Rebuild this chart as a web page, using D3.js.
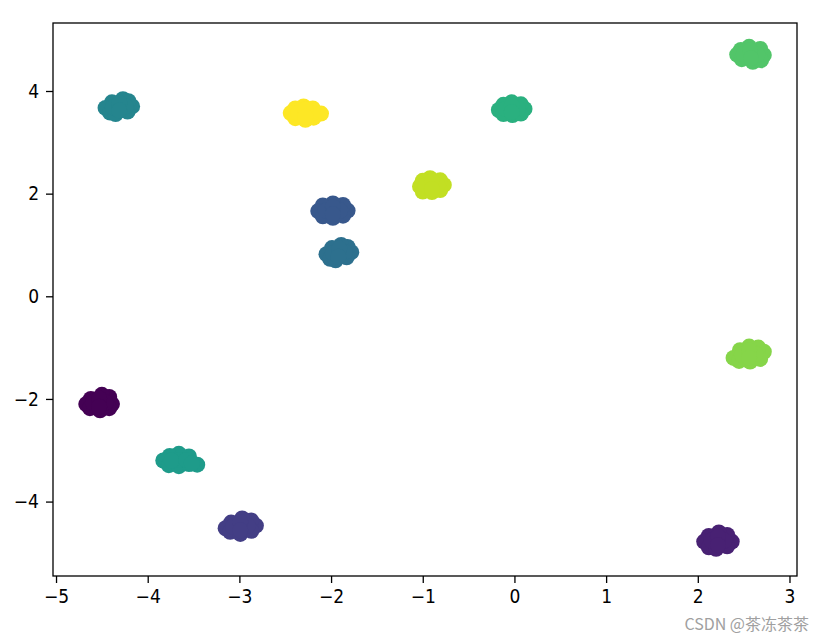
<!DOCTYPE html>
<html>
<head>
<meta charset="utf-8">
<script src="https://cdn.jsdelivr.net/npm/d3@7"></script>
<style>
  body { margin: 0; background: #fff; }
  svg text { font-family: "DejaVu Sans Condensed", "DejaVu Sans", sans-serif; }
</style>
</head>
<body>
<svg id="chart" width="818" height="638"></svg>
<script>
// cluster points (label = position in list)
const pts0 = [[-4.39,-2.10],[-4.42,-1.96],[-4.50,-1.92],[-4.62,-2.00],[-4.67,-2.10],[-4.63,-2.18],[-4.52,-2.22],[-4.42,-2.18],
              [-4.53,-2.07],[-4.60,-2.07],[-4.46,-2.07],[-4.53,-1.99],[-4.53,-2.15]];
const pts1 = [[2.37,-4.78],[2.32,-4.65],[2.23,-4.60],[2.12,-4.67],[2.07,-4.78],[2.12,-4.89],[2.20,-4.92],[2.32,-4.87],
              [2.22,-4.76],[2.15,-4.76],[2.29,-4.76],[2.22,-4.68],[2.22,-4.85]];
const pts2 = [[-2.82,-4.47],[-2.87,-4.37],[-2.97,-4.33],[-3.09,-4.41],[-3.15,-4.52],[-3.10,-4.59],[-2.99,-4.63],[-2.87,-4.57],
              [-2.99,-4.48],[-3.07,-4.49],[-2.91,-4.47],[-2.99,-4.40],[-2.99,-4.56]];
const pts3 = [[-1.82,1.67],[-1.87,1.78],[-1.98,1.81],[-2.09,1.77],[-2.14,1.66],[-2.09,1.56],[-1.98,1.53],[-1.87,1.57],
              [-1.98,1.67],[-2.06,1.67],[-1.90,1.67],[-1.98,1.74],[-1.98,1.60]];
const pts4 = [[-1.78,0.86],[-1.82,0.96],[-1.89,1.00],[-1.99,0.94],[-2.05,0.82],[-2.01,0.73],[-1.95,0.70],[-1.83,0.76],
              [-1.92,0.85],[-1.98,0.84],[-1.85,0.86],[-1.91,0.93],[-1.92,0.77]];
const pts5 = [[-4.17,3.70],[-4.21,3.80],[-4.27,3.84],[-4.39,3.78],[-4.46,3.67],[-4.41,3.58],[-4.35,3.55],[-4.22,3.60],
              [-4.31,3.70],[-4.38,3.68],[-4.24,3.70],[-4.31,3.77],[-4.31,3.62]];
const pts6 = [[-3.46,-3.28],[-3.55,-3.12],[-3.66,-3.07],[-3.76,-3.11],[-3.83,-3.20],[-3.77,-3.29],[-3.66,-3.31],[-3.55,-3.27],
              [-3.66,-3.19],[-3.74,-3.20],[-3.58,-3.19],[-3.52,-3.26]];
const pts7 = [[0.11,3.65],[0.07,3.74],[-0.03,3.78],[-0.12,3.73],[-0.17,3.63],[-0.12,3.55],[-0.02,3.53],[0.07,3.56],
              [-0.03,3.66],[-0.10,3.65],[0.04,3.65],[-0.03,3.72],[-0.03,3.59]];
const pts8 = [[2.72,4.70],[2.68,4.82],[2.56,4.86],[2.47,4.80],[2.43,4.71],[2.48,4.62],[2.60,4.57],[2.69,4.60],
              [2.57,4.72],[2.50,4.72],[2.65,4.71],[2.57,4.79],[2.58,4.64]];
const pts9 = [[2.72,-1.08],[2.66,-1.00],[2.56,-0.98],[2.46,-1.05],[2.39,-1.20],[2.45,-1.26],[2.57,-1.27],[2.68,-1.22],
              [2.56,-1.13],[2.48,-1.14],[2.63,-1.12],[2.56,-1.05],[2.56,-1.20]];
const pts10 = [[-0.77,2.17],[-0.81,2.26],[-0.92,2.30],[-1.00,2.25],[-1.03,2.14],[-1.00,2.04],[-0.90,2.03],[-0.81,2.07],
               [-0.90,2.17],[-0.97,2.16],[-0.84,2.17],[-0.90,2.24],[-0.90,2.09]];
const pts11 = [[-2.11,3.56],[-2.20,3.66],[-2.30,3.70],[-2.39,3.66],[-2.44,3.57],[-2.39,3.47],[-2.28,3.44],[-2.19,3.48],
               [-2.28,3.57],[-2.36,3.57],[-2.20,3.57],[-2.28,3.64],[-2.28,3.50]];

const clusters = [pts0, pts1, pts2, pts3, pts4, pts5, pts6, pts7, pts8, pts9, pts10, pts11];

const xTicks = [-5, -4, -3, -2, -1, 0, 1, 2, 3];
const yTicks = [-4, -2, 0, 2, 4];
const xLimits = [-5.033, 3.082];
const yLimits = [-5.45, 5.325];

const svg = d3.select('#chart');
const margin = { top: 23, right: 21, bottom: 62, left: 53 };
const width = 818 - margin.left - margin.right;
const height = 638 - margin.top - margin.bottom;

const x = d3.scaleLinear().domain(xLimits).range([0, width]);
const y = d3.scaleLinear().domain(yLimits).range([height, 0]);
const color = d3.scaleSequential(d3.interpolateViridis).domain([0, clusters.length - 1]);

const g = svg.append('g')
    .attr('transform', 'translate(' + margin.left + ',' + margin.top + ')');

// flatten to one list so every dot gets its label
const data = [];
clusters.forEach((pts, label) => {
    pts.forEach(p => data.push({ x: p[0], y: p[1], label: label }));
});

g.selectAll('.dot')
    .data(data)
    .enter().append('circle')
    .attr('class', 'dot')
    .attr('r', 8)
    .attr('cx', d => x(d.x))
    .attr('cy', d => y(d.y))
    .style('fill', d => color(d.label));

// x axis
const xAxis = g.append('g')
    .attr('transform', 'translate(0,' + height + ')')
    .call(d3.axisBottom(x).tickValues(xTicks).tickSize(7).tickPadding(7));

// y axis
const yAxis = g.append('g')
    .call(d3.axisLeft(y).tickValues(yTicks).tickSize(7).tickPadding(7));

[xAxis, yAxis].forEach(a => {
    a.select('.domain').remove();
    a.selectAll('line').attr('stroke', '#000').attr('stroke-width', 1.3);
    a.selectAll('text')
        .style('font-size', '19px')
        .style('font-family', '"DejaVu Sans Condensed", "DejaVu Sans", sans-serif')
        .attr('fill', '#000');
});

// frame
g.append('rect')
    .attr('width', width)
    .attr('height', height)
    .attr('fill', 'none')
    .attr('stroke', '#000')
    .attr('stroke-width', 1.3);

// watermark
svg.append('text')
    .attr('x', 809)
    .attr('y', 630)
    .attr('text-anchor', 'end')
    .style('font-family', '"Noto Sans CJK SC", sans-serif')
    .style('font-size', '16px')
    .attr('fill', '#a0a0a0')
    .text('CSDN @茶冻茶茶');
</script>
</body>
</html>
